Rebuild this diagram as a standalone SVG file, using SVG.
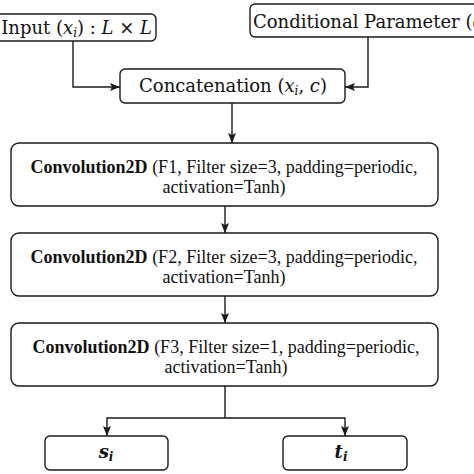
<svg xmlns="http://www.w3.org/2000/svg" width="474" height="474" viewBox="0 0 474 474">
<defs>
<marker id="ah" markerUnits="userSpaceOnUse" markerWidth="10" markerHeight="10" viewBox="0 0 10 10" refX="10" refY="5" orient="auto">
<path d="M0,1 L10,5 L0,9 L2,5 Z" fill="#1a1a1a"/>
</marker>
<style>
.box{fill:#fff;stroke:#1a1a1a;stroke-width:1.4}
.lt{font-family:"DejaVu Serif","Liberation Serif",serif;font-size:18px;fill:#111}
.tm{font-family:"Liberation Serif","DejaVu Serif",serif;font-size:18px;fill:#111}
.b{font-weight:bold}
.i{font-style:italic}
.c{stroke:#1a1a1a;stroke-width:1.4;fill:none}
</style>
</defs>
<rect width="474" height="474" fill="#fff"/>
<g id="connectors">
<path class="c" d="M73 41 V87 H120" marker-end="url(#ah)"/>
<path class="c" d="M368 37 V87 H345" marker-end="url(#ah)"/>
<path class="c" d="M232 103 V143" marker-end="url(#ah)"/>
<path class="c" d="M225 206 V233" marker-end="url(#ah)"/>
<path class="c" d="M225 296 V323" marker-end="url(#ah)"/>
<path class="c" d="M225 386 V418"/>
<path class="c" d="M225 418 H107 V436" marker-end="url(#ah)"/>
<path class="c" d="M225 418 H345 V436" marker-end="url(#ah)"/>
</g>
<g id="input">
<rect class="box" x="-10" y="14" width="166" height="27" rx="5"/>
<text class="lt" x="152" y="34" text-anchor="end" font-size="18.5">Input (<tspan class="i">x</tspan><tspan font-size="12" dy="3" class="i">i</tspan><tspan dy="-3">) :  </tspan><tspan class="i">L</tspan> × <tspan class="i">L</tspan></text>
</g>
<g id="conditional">
<rect class="box" x="250" y="4" width="240" height="33" rx="5"/>
<text class="lt" x="253" y="28">Conditional Parameter (<tspan class="i">c</tspan>)</text>
</g>
<g id="concat">
<rect class="box" x="120" y="69" width="225" height="34" rx="5"/>
<text class="lt" x="233" y="92" text-anchor="middle">Concatenation (<tspan class="i">x</tspan><tspan font-size="12" dy="3" class="i">i</tspan><tspan dy="-3">, </tspan><tspan class="i">c</tspan>)</text>
</g>
<g id="conv1">
<rect class="box" x="11" y="143" width="427" height="63" rx="8"/>
<text class="tm" x="224" y="173" text-anchor="middle"><tspan class="b">Convolution2D</tspan> (F1, Filter size=3, padding=periodic,</text>
<text class="tm" x="224" y="193" text-anchor="middle">activation=Tanh)</text>
</g>
<g id="conv2">
<rect class="box" x="11" y="233" width="427" height="63" rx="8"/>
<text class="tm" x="224" y="263" text-anchor="middle"><tspan class="b">Convolution2D</tspan> (F2, Filter size=3, padding=periodic,</text>
<text class="tm" x="224" y="283" text-anchor="middle">activation=Tanh)</text>
</g>
<g id="conv3">
<rect class="box" x="11" y="323" width="427" height="63" rx="8"/>
<text class="tm" x="226" y="353" text-anchor="middle"><tspan class="b">Convolution2D</tspan> (F3, Filter size=1, padding=periodic,</text>
<text class="tm" x="226" y="373" text-anchor="middle">activation=Tanh)</text>
</g>
<g id="s">
<rect class="box" x="45" y="436" width="123" height="34" rx="5"/>
<text class="lt b i" x="106" y="458" text-anchor="middle">s<tspan font-size="12" dy="3">i</tspan></text>
</g>
<g id="t">
<rect class="box" x="283" y="436" width="124" height="34" rx="5"/>
<text class="lt b i" x="341" y="458" text-anchor="middle">t<tspan font-size="12" dy="3">i</tspan></text>
</g>
</svg>
